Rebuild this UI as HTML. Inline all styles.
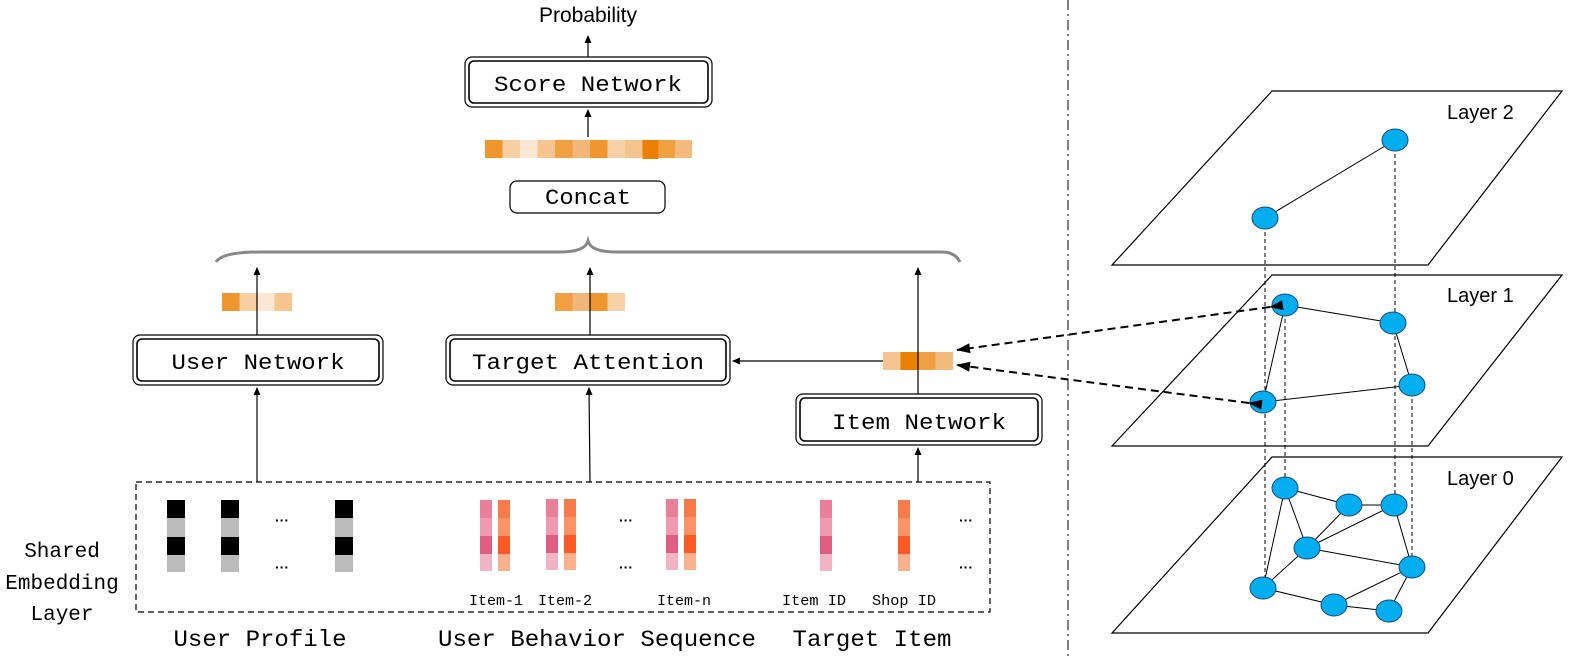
<!DOCTYPE html>
<html><head><meta charset="utf-8"><style>html,body{margin:0;padding:0;background:#fff}svg{display:block}</style></head><body>
<svg width="1581" height="659" viewBox="0 0 1581 659" xmlns="http://www.w3.org/2000/svg">
<defs>
<marker id="a" markerWidth="8" markerHeight="8" refX="7" refY="4" orient="auto" markerUnits="userSpaceOnUse"><path d="M0,0.5 L8,4 L0,7.5Z" fill="#000"/></marker>
<marker id="b" markerWidth="14" markerHeight="10" refX="13" refY="5" orient="auto" markerUnits="userSpaceOnUse"><path d="M0,0 L14,5 L0,10Z" fill="#000"/></marker>
</defs>
<g font-family="Liberation Mono, monospace" fill="#000">
<text x="588" y="22" font-family="Liberation Sans, sans-serif" font-size="21" text-anchor="middle">Probability</text>
<line x1="588" y1="57" x2="588" y2="36" stroke="#000" stroke-width="1.2" marker-end="url(#a)"/>
<rect x="465" y="57" width="247" height="50" rx="7" fill="none" stroke="#000" stroke-width="1.2"/>
<rect x="469" y="61" width="239" height="42" rx="5" fill="none" stroke="#000" stroke-width="1.6"/>
<text x="588" y="91" font-size="22" text-anchor="middle" textLength="188" lengthAdjust="spacingAndGlyphs">Score Network</text>
<line x1="588" y1="137" x2="588" y2="110" stroke="#000" stroke-width="1.2" marker-end="url(#a)"/>
<g>
<rect x="485" y="140" width="17.5" height="18" fill="#f0962f"/><rect x="502.5" y="140" width="17.5" height="18" fill="#f7cfa3"/><rect x="520" y="140" width="17.5" height="18" fill="#fce7d2"/><rect x="537.5" y="140" width="17.5" height="18" fill="#f5c48f"/><rect x="555" y="140" width="17.5" height="18" fill="#f0a040"/><rect x="572.5" y="140" width="17.5" height="18" fill="#f3b679"/><rect x="590" y="140" width="17.5" height="18" fill="#f0962f"/><rect x="607.5" y="140" width="17.5" height="18" fill="#f7d2a8"/><rect x="625" y="140" width="17.5" height="18" fill="#f4c48f"/><rect x="642.5" y="140" width="16" height="19" fill="#eb8000"/><rect x="658.5" y="140" width="16.5" height="18" fill="#f0a040"/><rect x="675" y="140" width="17" height="18" fill="#f3bb7c"/>
</g>
<rect x="510" y="181" width="155" height="32" rx="7" fill="none" stroke="#000" stroke-width="1.2"/>
<text x="588" y="204" font-size="22" text-anchor="middle" textLength="86" lengthAdjust="spacingAndGlyphs">Concat</text>
<path d="M216,262 Q222,252 260,252 L560,252 Q585,252 588,241 Q591,252 616,252 L942,252 Q955,252 960,262" fill="none" stroke="#888" stroke-width="3"/>
<rect x="222" y="293" width="17.5" height="18" fill="#f0962f"/><rect x="239.5" y="293" width="17.5" height="18" fill="#f7cfa3"/><rect x="257" y="293" width="17.5" height="18" fill="#fce7d2"/><rect x="274.5" y="293" width="17.5" height="18" fill="#f5c48f"/>
<line x1="257" y1="335" x2="257" y2="268" stroke="#000" stroke-width="1.2" marker-end="url(#a)"/>
<rect x="555" y="293" width="17.5" height="18" fill="#f0a040"/><rect x="572.5" y="293" width="17.5" height="18" fill="#f3b679"/><rect x="590" y="293" width="17.5" height="18" fill="#f0962f"/><rect x="607.5" y="293" width="17.5" height="18" fill="#f7d2a8"/>
<line x1="590" y1="335" x2="590" y2="268" stroke="#000" stroke-width="1.2" marker-end="url(#a)"/>
<rect x="133" y="335" width="250" height="50" rx="7" fill="none" stroke="#000" stroke-width="1.2"/>
<rect x="137" y="339" width="242" height="42" rx="5" fill="none" stroke="#000" stroke-width="1.6"/>
<text x="258" y="369" font-size="22" text-anchor="middle" textLength="173" lengthAdjust="spacingAndGlyphs">User Network</text>
<rect x="446" y="335" width="284" height="50" rx="7" fill="none" stroke="#000" stroke-width="1.2"/>
<rect x="450" y="339" width="276" height="42" rx="5" fill="none" stroke="#000" stroke-width="1.6"/>
<text x="588" y="369" font-size="22" text-anchor="middle" textLength="232" lengthAdjust="spacingAndGlyphs">Target Attention</text>
<rect x="883" y="352" width="17.5" height="18" fill="#f5c48f"/><rect x="900.5" y="352" width="17.5" height="18" fill="#eb8000"/><rect x="918" y="352" width="17.5" height="18" fill="#f0a040"/><rect x="935.5" y="352" width="17.5" height="18" fill="#f3bb7c"/>
<line x1="918" y1="394" x2="918" y2="268" stroke="#000" stroke-width="1.2" marker-end="url(#a)"/>
<line x1="883" y1="361" x2="733" y2="361" stroke="#000" stroke-width="1.2" marker-end="url(#a)"/>
<rect x="796" y="394" width="246" height="51" rx="7" fill="none" stroke="#000" stroke-width="1.2"/>
<rect x="800" y="398" width="238" height="43" rx="5" fill="none" stroke="#000" stroke-width="1.6"/>
<text x="919" y="429" font-size="22" text-anchor="middle" textLength="174" lengthAdjust="spacingAndGlyphs">Item Network</text>
<rect x="136" y="482" width="854" height="130" fill="none" stroke="#000" stroke-width="1.2" stroke-dasharray="6,4"/>
<line x1="257" y1="482" x2="257" y2="388" stroke="#000" stroke-width="1.2" marker-end="url(#a)"/>
<line x1="590" y1="482" x2="589" y2="388" stroke="#000" stroke-width="1.2" marker-end="url(#a)"/>
<line x1="918" y1="482" x2="918" y2="448" stroke="#000" stroke-width="1.2" marker-end="url(#a)"/>
<g>
<rect x="167" y="500" width="18" height="18" fill="#000"/><rect x="167" y="518" width="18" height="19" fill="#bbb"/><rect x="167" y="537" width="18" height="18" fill="#000"/><rect x="167" y="555" width="18" height="17" fill="#bbb"/>
<rect x="221" y="500" width="18" height="18" fill="#000"/><rect x="221" y="518" width="18" height="19" fill="#bbb"/><rect x="221" y="537" width="18" height="18" fill="#000"/><rect x="221" y="555" width="18" height="17" fill="#bbb"/>
<rect x="335" y="500" width="18" height="18" fill="#000"/><rect x="335" y="518" width="18" height="19" fill="#bbb"/><rect x="335" y="537" width="18" height="18" fill="#000"/><rect x="335" y="555" width="18" height="17" fill="#bbb"/>
</g>
<g font-size="14" font-family="Liberation Sans, sans-serif" font-weight="bold" text-anchor="middle">
<text x="282" y="525">···</text><text x="282" y="572">···</text>
<text x="626" y="525">···</text><text x="626" y="572">···</text>
<text x="966" y="525">···</text><text x="966" y="572">···</text>
</g>
<g id="pk">
<rect x="480" y="500" width="12" height="18" fill="#e8809a"/><rect x="480" y="518" width="12" height="18" fill="#ee9ab0"/><rect x="480" y="536" width="12" height="18" fill="#e05f80"/><rect x="480" y="554" width="12" height="17" fill="#f2b3c5"/>
</g>
<g id="or">
<rect x="498" y="500" width="12" height="18" fill="#f77b4a"/><rect x="498" y="518" width="12" height="18" fill="#fb9366"/><rect x="498" y="536" width="12" height="18" fill="#fb5a26"/><rect x="498" y="554" width="12" height="17" fill="#fcb08c"/>
</g>
<use href="#pk" x="66" y="-1"/><use href="#or" x="66" y="-1"/>
<use href="#pk" x="186" y="-1"/><use href="#or" x="186" y="-1"/>
<use href="#pk" x="340" y="0"/><use href="#or" x="400" y="0"/>
<g font-size="15" text-anchor="middle">
<text x="496" y="605" textLength="54" lengthAdjust="spacingAndGlyphs">Item-1</text>
<text x="565" y="605" textLength="54" lengthAdjust="spacingAndGlyphs">Item-2</text>
<text x="684" y="605" textLength="54" lengthAdjust="spacingAndGlyphs">Item-n</text>
<text x="814" y="605" textLength="64" lengthAdjust="spacingAndGlyphs">Item ID</text>
<text x="904" y="605" textLength="64" lengthAdjust="spacingAndGlyphs">Shop ID</text>
</g>
<g font-size="23" text-anchor="middle">
<text x="260" y="646" textLength="173" lengthAdjust="spacingAndGlyphs">User Profile</text>
<text x="597" y="646" textLength="318" lengthAdjust="spacingAndGlyphs">User Behavior Sequence</text>
<text x="872" y="646" textLength="159" lengthAdjust="spacingAndGlyphs">Target Item</text>
</g>
<g font-size="21" text-anchor="middle">
<text x="62" y="557">Shared</text><text x="62" y="589">Embedding</text><text x="62" y="620">Layer</text>
</g>
<line x1="1068" y1="0" x2="1068" y2="659" stroke="#000" stroke-width="1" stroke-dasharray="10,4,2,4"/>
<g fill="none" stroke="#000" stroke-width="1.2">
<path d="M1272,91 L1562,91 L1428,265 L1112,265Z"/>
<path d="M1272,275 L1562,275 L1428,446 L1112,446Z"/>
<path d="M1272,457 L1562,457 L1428,633 L1112,633Z"/>
</g>
<g font-family="Liberation Sans, sans-serif" font-size="20">
<text x="1447" y="119">Layer 2</text><text x="1447" y="302">Layer 1</text><text x="1447" y="485">Layer 0</text>
</g>
<g stroke="#000" stroke-width="1" stroke-dasharray="4,3" fill="none">
<line x1="1265" y1="218" x2="1265" y2="588"/>
<line x1="1285" y1="305" x2="1285" y2="488"/>
<line x1="1395" y1="140" x2="1395" y2="505"/>
<line x1="1412" y1="385" x2="1412" y2="567"/>
</g>
<g stroke="#000" stroke-width="1">
<line x1="1265" y1="218" x2="1395" y2="140"/>
<line x1="1285" y1="305" x2="1393" y2="323"/><line x1="1285" y1="305" x2="1263" y2="402"/><line x1="1393" y1="323" x2="1412" y2="385"/><line x1="1263" y1="402" x2="1412" y2="385"/>
<line x1="1285" y1="488" x2="1349" y2="505"/><line x1="1349" y1="505" x2="1394" y2="505"/><line x1="1285" y1="488" x2="1307" y2="548"/><line x1="1285" y1="488" x2="1263" y2="588"/><line x1="1307" y1="548" x2="1349" y2="505"/><line x1="1307" y1="548" x2="1394" y2="505"/><line x1="1307" y1="548" x2="1412" y2="567"/><line x1="1307" y1="548" x2="1263" y2="588"/><line x1="1394" y1="505" x2="1412" y2="567"/><line x1="1412" y1="567" x2="1334" y2="605"/><line x1="1412" y1="567" x2="1389" y2="611"/><line x1="1263" y1="588" x2="1334" y2="605"/><line x1="1334" y1="605" x2="1389" y2="611"/>
</g>
<g fill="#00aeef" stroke="#1a4a7a" stroke-width="1">
<ellipse cx="1395" cy="140" rx="13" ry="11"/><ellipse cx="1265" cy="218" rx="13" ry="11"/>
<ellipse cx="1285" cy="305" rx="13" ry="11"/><ellipse cx="1393" cy="323" rx="13" ry="11"/><ellipse cx="1412" cy="385" rx="13" ry="11"/><ellipse cx="1263" cy="402" rx="13" ry="11"/>
<ellipse cx="1285" cy="488" rx="13" ry="11"/><ellipse cx="1349" cy="505" rx="13" ry="11"/><ellipse cx="1394" cy="505" rx="13" ry="11"/><ellipse cx="1307" cy="548" rx="13" ry="11"/><ellipse cx="1412" cy="567" rx="13" ry="11"/><ellipse cx="1263" cy="588" rx="13" ry="11"/><ellipse cx="1334" cy="605" rx="13" ry="11"/><ellipse cx="1389" cy="611" rx="13" ry="11"/>
</g>
<g stroke="#000" stroke-width="2" stroke-dasharray="8,5" fill="none">
<line x1="1270" y1="307" x2="957" y2="350" marker-start="url(#b)" marker-end="url(#b)"/>
<line x1="1249" y1="403" x2="957" y2="365" marker-start="url(#b)" marker-end="url(#b)"/>
</g>
</g>
<style>marker path{stroke:none}</style>
</svg>
</body></html>
